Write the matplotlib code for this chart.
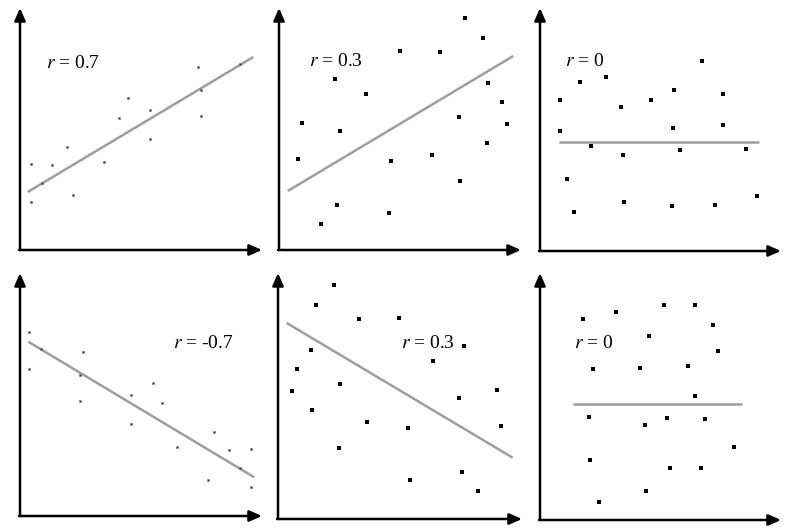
import matplotlib
matplotlib.use("Agg")
import matplotlib.pyplot as plt
import numpy as np

plt.rcParams['font.family'] = ['Liberation Serif', 'DejaVu Serif']
plt.rcParams['mathtext.fontset'] = 'stix'

# panel layout in pixels: origin x, origin y (from top), width, height
panels = [
    (20, 250, 242, 242),
    (279, 250, 242, 242),
    (540, 251, 241, 243),
    (20, 516, 242, 243),
    (278, 519, 244, 246),
    (540, 520, 241, 247),
]

labels = ["0.7", "0.3", "0", "-0.7", "0.3", "0"]
label_pos = [(28, 187), (32, 188), (27, 189), (155, 173), (125, 176), (36, 177)]

# scatter points (x right from y-axis, y up from x-axis)
x1 = [10.7, 10.7, 22.3, 32.3, 47.3, 53.3, 84.3, 99.3, 108.3, 130.3, 130.3, 178.3, 181.3, 181.3, 220]
y1 = [85.7, 47.7, 66.7, 84.7, 102.7, 55, 87.7, 131.7, 151.7, 139.7, 110.7, 182.7, 159.7, 133.7, 186.3]

x2 = [186.3, 204.3, 121.3, 161.3, 56.3, 87.3, 209.3, 223.3, 23.3, 61.3,
      180.3, 228.3, 19.3, 112.3, 153.3, 208.3, 181.3, 58.3, 110.3, 42.3]
y2 = [231.7, 211.7, 199.3, 197.7, 170.7, 155.7, 166.7, 147.7, 126.7, 119.3,
      132.7, 125.7, 90.7, 88.7, 94.7, 106.7, 68.7, 44.7, 36.7, 25.7]

x3 = [162.3, 66.3, 40.3, 134.3, 183.3, 20.3, 111.3, 81.3, 20.3, 133.3, 183.3,
      51.3, 83.3, 140.3, 206.3, 27.3, 217.3, 84.3, 34.3, 132.3, 175.3]
y3 = [189.7, 173.7, 168.7, 160.7, 156.7, 150.7, 150.7, 143.7, 119.7, 122.7, 125.7,
      104.7, 95.7, 100.7, 101.7, 71.7, 54.7, 48.7, 38.7, 44.7, 45.7]

x4 = [9.3, 9.3, 21.3, 63.3, 60.3, 60.3, 111.3, 111.3, 133, 142.3,
      157.3, 194.3, 209.3, 231.3, 188.3, 219.7, 231.3]
y4 = [183.7, 146.7, 167, 163.7, 140.7, 114.7, 120.7, 91.7, 132.7, 112.7,
      68.7, 83.7, 65.7, 66.7, 35.7, 47.7, 28.7]

x5 = [56.3, 38.3, 81.3, 121.3, 186.3, 33.3, 155.3, 19.3, 62.3, 14.3,
      181.3, 219.3, 34.3, 89.3, 130.3, 223.3, 61.3, 132.3, 184.3, 200.3]
y5 = [233.7, 213.7, 199.7, 201.3, 173, 168.7, 157.7, 149.7, 134.7, 127.7,
      121.3, 128.7, 108.7, 96.7, 90.7, 92.7, 70.7, 38.7, 46.7, 27.7]

x6 = [124.3, 155.3, 76.3, 43.3, 173.3, 109.3, 178.3, 53.3, 100.3, 148.3, 155.3,
      49.3, 127.3, 165.3, 105.3, 194.3, 50.3, 130.3, 161.3, 106.3, 59.3]
y6 = [214.7, 214.7, 207.7, 200.7, 194.7, 183.7, 168.7, 150.7, 151.7, 153.7, 123.7,
      102.7, 101.7, 100.7, 94.7, 72.7, 59.7, 51.7, 51.7, 28.7, 17.7]

xs = [x1, x2, x3, x4, x5, x6]
ys = [y1, y2, y3, y4, y5, y6]

# fitted lines: (x start, y start, x end, y end)
fit_x = [(7.7, 233.3), (8.7, 234.3), (18.7, 219.3), (8.3, 234.3), (8.7, 234.7), (33.3, 202.3)]
fit_y = [(58, 193), (59, 194), (108.7, 108.7), (174.3, 38.7), (196, 61.3), (115.7, 115.7)]

W, H = 800, 532
fig = plt.figure(figsize=(W / 100, H / 100), dpi=100)

for i, (ox, oy, w, h) in enumerate(panels):
    ax = fig.add_axes([ox / W, (H - oy) / H, w / W, h / H])
    ax.set_xlim(0, w)
    ax.set_ylim(0, h)
    ax.axis('off')

    ax.plot(fit_x[i], fit_y[i], color='#9e9e9e', lw=1.8, solid_capstyle='butt')
    if i in (0, 3):
        ax.plot(xs[i], ys[i], 's', ms=2.0, color='#3a3a3a', mec='#777777', mew=0.4)
    else:
        ax.plot(xs[i], ys[i], 's', ms=2.2, color='black', mec='black', mew=0)

    ax.text(label_pos[i][0] - 2, label_pos[i][1], "$r$ = " + labels[i],
            fontsize=14, va='center', ha='left')

    arrow = dict(arrowstyle='-|>,head_length=0.75,head_width=0.33', lw=1.8,
                 color='black', shrinkA=0, shrinkB=0, mutation_scale=10)
    ax.annotate('', xy=(0, 1), xytext=(0, 0), xycoords='axes fraction',
                arrowprops=arrow, annotation_clip=False)
    ax.annotate('', xy=(1, 0), xytext=(-0.004, 0), xycoords='axes fraction',
                arrowprops=arrow, annotation_clip=False)

fig.savefig("out.png", dpi=100)
